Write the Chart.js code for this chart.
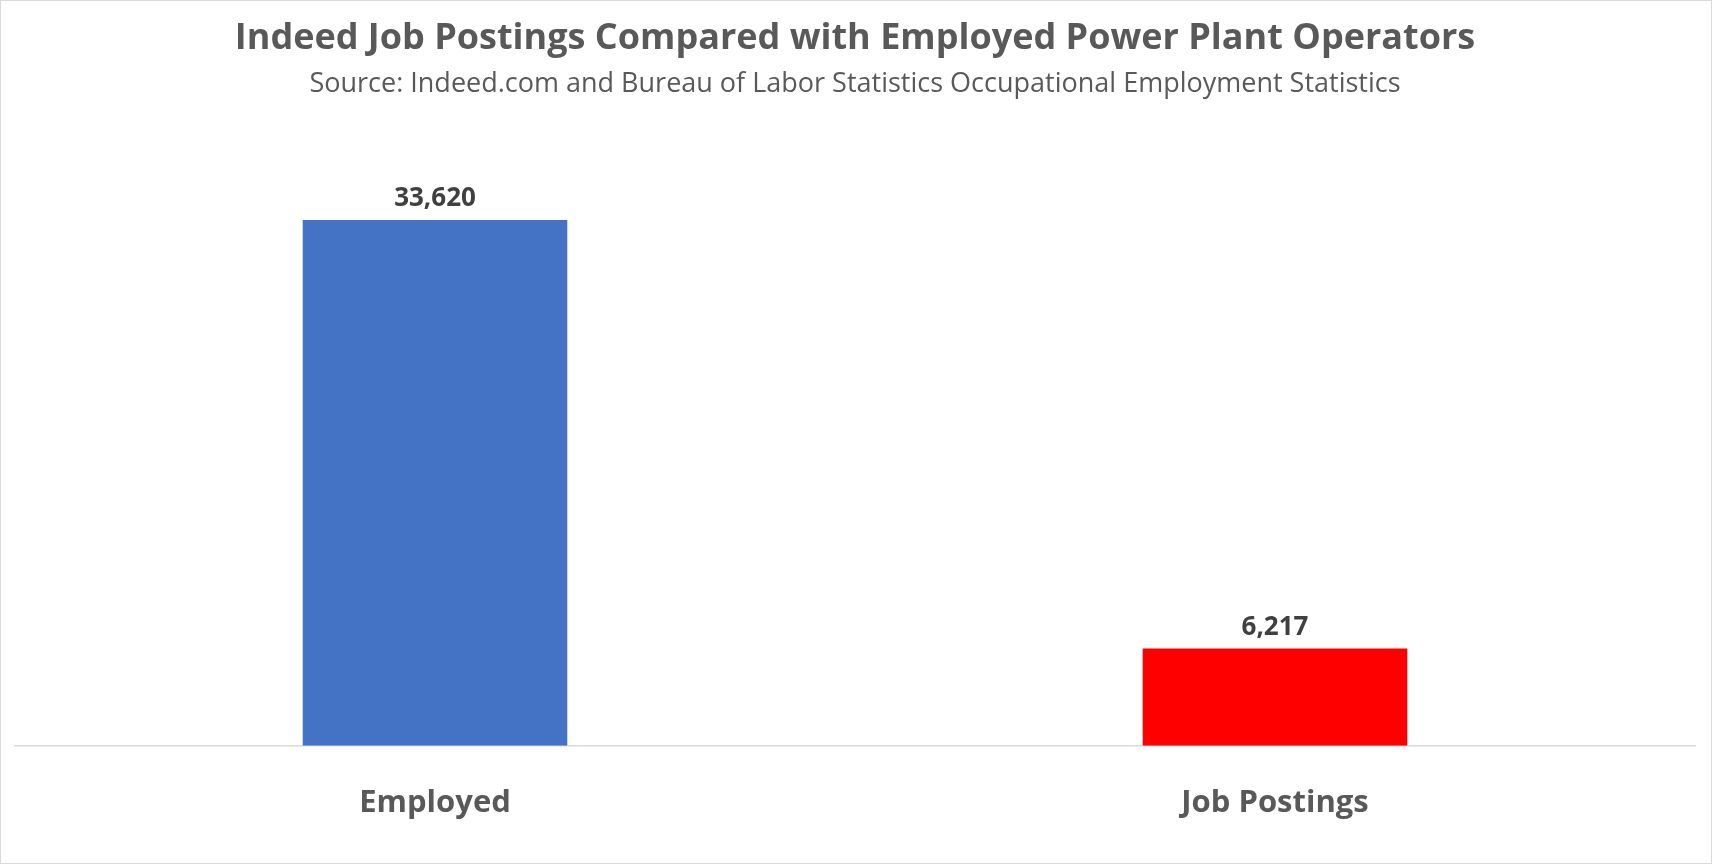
<!DOCTYPE html>
<html><head><meta charset="utf-8">
<script src="https://cdn.jsdelivr.net/npm/chart.js@4"></script>
<style>html,body{margin:0;padding:0;background:#fff}#w{width:1710px;height:862px;border:1px solid #d9d9d9}</style>
</head><body><div id="w"><canvas id="c"></canvas></div>
<script>
const categories = ["Employed", "Job Postings"];
const values = [33620, 6217];
const colors = ["#4472C4", "#FF0000"];
const titleText = "Indeed Job Postings Compared with Employed Power Plant Operators";
const subtitleText = "Source: Indeed.com and Bureau of Labor Statistics Occupational Employment Statistics";

const labelPlugin = {
  id: 'lbl',
  afterDatasetsDraw(chart) {
    const ctx = chart.ctx;
    const meta = chart.getDatasetMeta(0);
    ctx.save();
    ctx.font = "bold 26px 'Open Sans', sans-serif";
    ctx.fillStyle = "#404040";
    ctx.textAlign = "center";
    ctx.textBaseline = "bottom";
    meta.data.forEach((b, i) => {
      ctx.fillText(values[i].toLocaleString('en-US'), b.x, b.y - 8);
    });
    ctx.restore();
  }
};

new Chart(document.getElementById('c'), {
  type: 'bar',
  data: { labels: categories, datasets: [{ data: values, backgroundColor: colors, barPercentage: 0.315, categoryPercentage: 1 }] },
  options: {
    responsive: true, maintainAspectRatio: false, animation: false,
    layout: { padding: { left: 14, right: 16, top: 0, bottom: 10 } },
    plugins: {
      legend: { display: false }, tooltip: { enabled: false },
      title: { display: true, text: titleText, color: '#595959', font: { family: "'Open Sans', sans-serif", size: 36, weight: 'bold' }, padding: { top: 16, bottom: 8 } },
      subtitle: { display: true, text: subtitleText, color: '#595959', font: { family: "'Open Sans', sans-serif", size: 27 }, padding: { top: 0, bottom: 51 } }
    },
    scales: {
      x: { grid: { display: false }, border: { color: '#d9d9d9', width: 1.5 },
           ticks: { color: '#595959', font: { family: "'Open Sans', sans-serif", size: 31, weight: 'bold' }, padding: 31 } },
      y: { display: false, min: 0, max: 38000 }
    }
  },
  plugins: [labelPlugin]
});
</script></body></html>
